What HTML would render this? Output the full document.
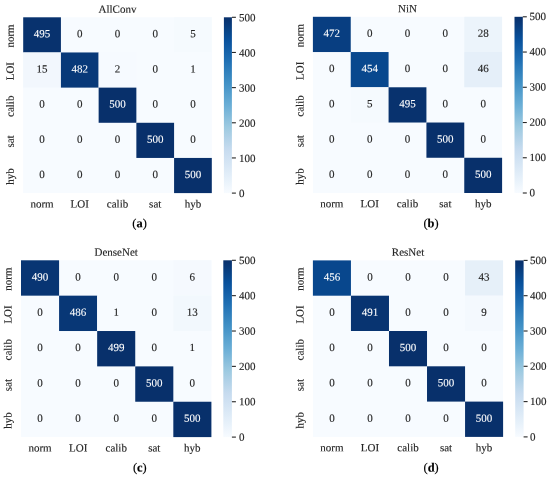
<!DOCTYPE html>
<html><head><meta charset="utf-8"><title>Confusion matrices</title>
<style>
html,body{margin:0;padding:0;background:#fff;}
svg{display:block;}
text{font-family:"Liberation Serif","Times New Roman",serif;fill:#262626;stroke:#262626;stroke-width:0.15px;}
.t{font-size:11px;text-anchor:middle;}
.w{fill:#fff;stroke:#fff;stroke-width:0.08px;}
.cb{font-size:11px;text-anchor:start;}
.cap{font-size:12.4px;text-anchor:middle;fill:#000;stroke:#000;}
</style></head><body>
<svg width="550" height="479" viewBox="0 0 550 479">
<defs><linearGradient id="g" x1="0" y1="1" x2="0" y2="0">
<stop offset="0.0000" stop-color="#f7fbff"/>
<stop offset="0.0312" stop-color="#f1f7fd"/>
<stop offset="0.0625" stop-color="#eaf3fb"/>
<stop offset="0.0938" stop-color="#e4eff9"/>
<stop offset="0.1250" stop-color="#deebf7"/>
<stop offset="0.1562" stop-color="#d8e7f5"/>
<stop offset="0.1875" stop-color="#d2e3f3"/>
<stop offset="0.2188" stop-color="#ccdff1"/>
<stop offset="0.2500" stop-color="#c6dbef"/>
<stop offset="0.2812" stop-color="#bcd7eb"/>
<stop offset="0.3125" stop-color="#b2d2e8"/>
<stop offset="0.3438" stop-color="#a8cee4"/>
<stop offset="0.3750" stop-color="#9dcae1"/>
<stop offset="0.4062" stop-color="#91c3de"/>
<stop offset="0.4375" stop-color="#84bcdb"/>
<stop offset="0.4688" stop-color="#77b5d9"/>
<stop offset="0.5000" stop-color="#6aaed6"/>
<stop offset="0.5312" stop-color="#60a7d2"/>
<stop offset="0.5625" stop-color="#56a0ce"/>
<stop offset="0.5938" stop-color="#4b98ca"/>
<stop offset="0.6250" stop-color="#4191c6"/>
<stop offset="0.6562" stop-color="#3989c1"/>
<stop offset="0.6875" stop-color="#3181bd"/>
<stop offset="0.7188" stop-color="#2979b9"/>
<stop offset="0.7500" stop-color="#2070b4"/>
<stop offset="0.7812" stop-color="#1a68ae"/>
<stop offset="0.8125" stop-color="#1460a8"/>
<stop offset="0.8438" stop-color="#0e58a2"/>
<stop offset="0.8750" stop-color="#08509b"/>
<stop offset="0.9062" stop-color="#08488e"/>
<stop offset="0.9375" stop-color="#084082"/>
<stop offset="0.9688" stop-color="#083776"/>
<stop offset="1.0000" stop-color="#08306b"/>
</linearGradient></defs>
<rect width="550" height="479" fill="#fff"/>
<g>
<rect x="23.20" y="17.30" width="188.60" height="175.80" fill="#f7fbff"/>
<rect x="23.20" y="17.30" width="37.72" height="35.16" fill="#08326e"/>
<rect x="174.08" y="17.30" width="37.72" height="35.16" fill="#f5fafe"/>
<rect x="23.20" y="52.46" width="37.72" height="35.16" fill="#f2f7fd"/>
<rect x="60.92" y="52.46" width="37.72" height="35.16" fill="#083979"/>
<rect x="98.64" y="52.46" width="37.72" height="35.16" fill="#f6faff"/>
<rect x="174.08" y="52.46" width="37.72" height="35.16" fill="#f7fbff"/>
<rect x="98.64" y="87.62" width="37.72" height="35.16" fill="#08306b"/>
<rect x="136.36" y="122.78" width="37.72" height="35.16" fill="#08306b"/>
<rect x="174.08" y="157.94" width="37.72" height="35.16" fill="#08306b"/>
<text class="t w" transform="translate(42.06 37.28) rotate(0.04)">495</text>
<text class="t" transform="translate(79.78 37.28) rotate(0.04)">0</text>
<text class="t" transform="translate(117.50 37.28) rotate(0.04)">0</text>
<text class="t" transform="translate(155.22 37.28) rotate(0.04)">0</text>
<text class="t" transform="translate(192.94 37.28) rotate(0.04)">5</text>
<text class="t" transform="translate(42.06 72.44) rotate(0.04)">15</text>
<text class="t w" transform="translate(79.78 72.44) rotate(0.04)">482</text>
<text class="t" transform="translate(117.50 72.44) rotate(0.04)">2</text>
<text class="t" transform="translate(155.22 72.44) rotate(0.04)">0</text>
<text class="t" transform="translate(192.94 72.44) rotate(0.04)">1</text>
<text class="t" transform="translate(42.06 107.60) rotate(0.04)">0</text>
<text class="t" transform="translate(79.78 107.60) rotate(0.04)">0</text>
<text class="t w" transform="translate(117.50 107.60) rotate(0.04)">500</text>
<text class="t" transform="translate(155.22 107.60) rotate(0.04)">0</text>
<text class="t" transform="translate(192.94 107.60) rotate(0.04)">0</text>
<text class="t" transform="translate(42.06 142.76) rotate(0.04)">0</text>
<text class="t" transform="translate(79.78 142.76) rotate(0.04)">0</text>
<text class="t" transform="translate(117.50 142.76) rotate(0.04)">0</text>
<text class="t w" transform="translate(155.22 142.76) rotate(0.04)">500</text>
<text class="t" transform="translate(192.94 142.76) rotate(0.04)">0</text>
<text class="t" transform="translate(42.06 177.92) rotate(0.04)">0</text>
<text class="t" transform="translate(79.78 177.92) rotate(0.04)">0</text>
<text class="t" transform="translate(117.50 177.92) rotate(0.04)">0</text>
<text class="t" transform="translate(155.22 177.92) rotate(0.04)">0</text>
<text class="t w" transform="translate(192.94 177.92) rotate(0.04)">500</text>
<text class="t" transform="translate(117.50 12.70) rotate(0.04)">AllConv</text>
<text class="t" transform="translate(42.06 207.40) rotate(0.04)">norm</text>
<text class="t" transform="translate(79.78 207.40) rotate(0.04)">LOI</text>
<text class="t" transform="translate(117.50 207.40) rotate(0.04)">calib</text>
<text class="t" transform="translate(155.22 207.40) rotate(0.04)">sat</text>
<text class="t" transform="translate(192.94 207.40) rotate(0.04)">hyb</text>
<text class="t" transform="translate(13.70 35.98) rotate(-90.04)">norm</text>
<text class="t" transform="translate(13.70 71.14) rotate(-90.04)">LOI</text>
<text class="t" transform="translate(13.70 106.30) rotate(-90.04)">calib</text>
<text class="t" transform="translate(13.70 141.46) rotate(-90.04)">sat</text>
<text class="t" transform="translate(13.70 176.62) rotate(-90.04)">hyb</text>
<rect x="223.90" y="17.30" width="8.00" height="175.80" fill="url(#g)"/>
<line x1="231.90" y1="193.10" x2="235.90" y2="193.10" stroke="#262626" stroke-width="1.1"/>
<text class="cb" transform="translate(239.10 197.10) rotate(0.04)">0</text>
<line x1="231.90" y1="157.94" x2="235.90" y2="157.94" stroke="#262626" stroke-width="1.1"/>
<text class="cb" transform="translate(239.10 161.94) rotate(0.04)">100</text>
<line x1="231.90" y1="122.78" x2="235.90" y2="122.78" stroke="#262626" stroke-width="1.1"/>
<text class="cb" transform="translate(239.10 126.78) rotate(0.04)">200</text>
<line x1="231.90" y1="87.62" x2="235.90" y2="87.62" stroke="#262626" stroke-width="1.1"/>
<text class="cb" transform="translate(239.10 91.62) rotate(0.04)">300</text>
<line x1="231.90" y1="52.46" x2="235.90" y2="52.46" stroke="#262626" stroke-width="1.1"/>
<text class="cb" transform="translate(239.10 56.46) rotate(0.04)">400</text>
<line x1="231.90" y1="17.30" x2="235.90" y2="17.30" stroke="#262626" stroke-width="1.1"/>
<text class="cb" transform="translate(239.10 21.30) rotate(0.04)">500</text>
<text class="cap" transform="translate(139.60 227.20) rotate(0.04)">(<tspan font-weight="bold">a</tspan>)</text>
</g>
<g>
<rect x="312.90" y="16.80" width="189.20" height="176.20" fill="#f7fbff"/>
<rect x="312.90" y="16.80" width="37.84" height="35.24" fill="#083e81"/>
<rect x="464.26" y="16.80" width="37.84" height="35.24" fill="#ecf4fb"/>
<rect x="350.74" y="52.04" width="37.84" height="35.24" fill="#08488e"/>
<rect x="464.26" y="52.04" width="37.84" height="35.24" fill="#e5eff9"/>
<rect x="350.74" y="87.28" width="37.84" height="35.24" fill="#f5fafe"/>
<rect x="388.58" y="87.28" width="37.84" height="35.24" fill="#08326e"/>
<rect x="426.42" y="122.52" width="37.84" height="35.24" fill="#08306b"/>
<rect x="464.26" y="157.76" width="37.84" height="35.24" fill="#08306b"/>
<text class="t w" transform="translate(331.82 36.82) rotate(0.04)">472</text>
<text class="t" transform="translate(369.66 36.82) rotate(0.04)">0</text>
<text class="t" transform="translate(407.50 36.82) rotate(0.04)">0</text>
<text class="t" transform="translate(445.34 36.82) rotate(0.04)">0</text>
<text class="t" transform="translate(483.18 36.82) rotate(0.04)">28</text>
<text class="t" transform="translate(331.82 72.06) rotate(0.04)">0</text>
<text class="t w" transform="translate(369.66 72.06) rotate(0.04)">454</text>
<text class="t" transform="translate(407.50 72.06) rotate(0.04)">0</text>
<text class="t" transform="translate(445.34 72.06) rotate(0.04)">0</text>
<text class="t" transform="translate(483.18 72.06) rotate(0.04)">46</text>
<text class="t" transform="translate(331.82 107.30) rotate(0.04)">0</text>
<text class="t" transform="translate(369.66 107.30) rotate(0.04)">5</text>
<text class="t w" transform="translate(407.50 107.30) rotate(0.04)">495</text>
<text class="t" transform="translate(445.34 107.30) rotate(0.04)">0</text>
<text class="t" transform="translate(483.18 107.30) rotate(0.04)">0</text>
<text class="t" transform="translate(331.82 142.54) rotate(0.04)">0</text>
<text class="t" transform="translate(369.66 142.54) rotate(0.04)">0</text>
<text class="t" transform="translate(407.50 142.54) rotate(0.04)">0</text>
<text class="t w" transform="translate(445.34 142.54) rotate(0.04)">500</text>
<text class="t" transform="translate(483.18 142.54) rotate(0.04)">0</text>
<text class="t" transform="translate(331.82 177.78) rotate(0.04)">0</text>
<text class="t" transform="translate(369.66 177.78) rotate(0.04)">0</text>
<text class="t" transform="translate(407.50 177.78) rotate(0.04)">0</text>
<text class="t" transform="translate(445.34 177.78) rotate(0.04)">0</text>
<text class="t w" transform="translate(483.18 177.78) rotate(0.04)">500</text>
<text class="t" transform="translate(407.50 12.20) rotate(0.04)">NiN</text>
<text class="t" transform="translate(331.82 207.30) rotate(0.04)">norm</text>
<text class="t" transform="translate(369.66 207.30) rotate(0.04)">LOI</text>
<text class="t" transform="translate(407.50 207.30) rotate(0.04)">calib</text>
<text class="t" transform="translate(445.34 207.30) rotate(0.04)">sat</text>
<text class="t" transform="translate(483.18 207.30) rotate(0.04)">hyb</text>
<text class="t" transform="translate(303.40 35.52) rotate(-90.04)">norm</text>
<text class="t" transform="translate(303.40 70.76) rotate(-90.04)">LOI</text>
<text class="t" transform="translate(303.40 106.00) rotate(-90.04)">calib</text>
<text class="t" transform="translate(303.40 141.24) rotate(-90.04)">sat</text>
<text class="t" transform="translate(303.40 176.48) rotate(-90.04)">hyb</text>
<rect x="514.50" y="16.80" width="8.30" height="176.20" fill="url(#g)"/>
<line x1="522.80" y1="193.00" x2="526.80" y2="193.00" stroke="#262626" stroke-width="1.1"/>
<text class="cb" transform="translate(529.40 196.30) rotate(0.04)">0</text>
<line x1="522.80" y1="157.76" x2="526.80" y2="157.76" stroke="#262626" stroke-width="1.1"/>
<text class="cb" transform="translate(529.40 161.06) rotate(0.04)">100</text>
<line x1="522.80" y1="122.52" x2="526.80" y2="122.52" stroke="#262626" stroke-width="1.1"/>
<text class="cb" transform="translate(529.40 125.82) rotate(0.04)">200</text>
<line x1="522.80" y1="87.28" x2="526.80" y2="87.28" stroke="#262626" stroke-width="1.1"/>
<text class="cb" transform="translate(529.40 90.58) rotate(0.04)">300</text>
<line x1="522.80" y1="52.04" x2="526.80" y2="52.04" stroke="#262626" stroke-width="1.1"/>
<text class="cb" transform="translate(529.40 55.34) rotate(0.04)">400</text>
<line x1="522.80" y1="16.80" x2="526.80" y2="16.80" stroke="#262626" stroke-width="1.1"/>
<text class="cb" transform="translate(529.40 20.10) rotate(0.04)">500</text>
<text class="cap" transform="translate(431.00 227.20) rotate(0.04)">(<tspan font-weight="bold">b</tspan>)</text>
</g>
<g>
<rect x="21.00" y="260.30" width="190.40" height="176.80" fill="#f7fbff"/>
<rect x="21.00" y="260.30" width="38.08" height="35.36" fill="#083573"/>
<rect x="173.32" y="260.30" width="38.08" height="35.36" fill="#f5f9fe"/>
<rect x="59.08" y="295.66" width="38.08" height="35.36" fill="#083776"/>
<rect x="97.16" y="295.66" width="38.08" height="35.36" fill="#f7fbff"/>
<rect x="173.32" y="295.66" width="38.08" height="35.36" fill="#f2f8fd"/>
<rect x="97.16" y="331.02" width="38.08" height="35.36" fill="#08306b"/>
<rect x="173.32" y="331.02" width="38.08" height="35.36" fill="#f7fbff"/>
<rect x="135.24" y="366.38" width="38.08" height="35.36" fill="#08306b"/>
<rect x="173.32" y="401.74" width="38.08" height="35.36" fill="#08306b"/>
<text class="t w" transform="translate(40.04 280.38) rotate(0.04)">490</text>
<text class="t" transform="translate(78.12 280.38) rotate(0.04)">0</text>
<text class="t" transform="translate(116.20 280.38) rotate(0.04)">0</text>
<text class="t" transform="translate(154.28 280.38) rotate(0.04)">0</text>
<text class="t" transform="translate(192.36 280.38) rotate(0.04)">6</text>
<text class="t" transform="translate(40.04 315.74) rotate(0.04)">0</text>
<text class="t w" transform="translate(78.12 315.74) rotate(0.04)">486</text>
<text class="t" transform="translate(116.20 315.74) rotate(0.04)">1</text>
<text class="t" transform="translate(154.28 315.74) rotate(0.04)">0</text>
<text class="t" transform="translate(192.36 315.74) rotate(0.04)">13</text>
<text class="t" transform="translate(40.04 351.10) rotate(0.04)">0</text>
<text class="t" transform="translate(78.12 351.10) rotate(0.04)">0</text>
<text class="t w" transform="translate(116.20 351.10) rotate(0.04)">499</text>
<text class="t" transform="translate(154.28 351.10) rotate(0.04)">0</text>
<text class="t" transform="translate(192.36 351.10) rotate(0.04)">1</text>
<text class="t" transform="translate(40.04 386.46) rotate(0.04)">0</text>
<text class="t" transform="translate(78.12 386.46) rotate(0.04)">0</text>
<text class="t" transform="translate(116.20 386.46) rotate(0.04)">0</text>
<text class="t w" transform="translate(154.28 386.46) rotate(0.04)">500</text>
<text class="t" transform="translate(192.36 386.46) rotate(0.04)">0</text>
<text class="t" transform="translate(40.04 421.82) rotate(0.04)">0</text>
<text class="t" transform="translate(78.12 421.82) rotate(0.04)">0</text>
<text class="t" transform="translate(116.20 421.82) rotate(0.04)">0</text>
<text class="t" transform="translate(154.28 421.82) rotate(0.04)">0</text>
<text class="t w" transform="translate(192.36 421.82) rotate(0.04)">500</text>
<text class="t" transform="translate(116.20 255.70) rotate(0.04)">DenseNet</text>
<text class="t" transform="translate(40.04 451.40) rotate(0.04)">norm</text>
<text class="t" transform="translate(78.12 451.40) rotate(0.04)">LOI</text>
<text class="t" transform="translate(116.20 451.40) rotate(0.04)">calib</text>
<text class="t" transform="translate(154.28 451.40) rotate(0.04)">sat</text>
<text class="t" transform="translate(192.36 451.40) rotate(0.04)">hyb</text>
<text class="t" transform="translate(11.50 279.08) rotate(-90.04)">norm</text>
<text class="t" transform="translate(11.50 314.44) rotate(-90.04)">LOI</text>
<text class="t" transform="translate(11.50 349.80) rotate(-90.04)">calib</text>
<text class="t" transform="translate(11.50 385.16) rotate(-90.04)">sat</text>
<text class="t" transform="translate(11.50 420.52) rotate(-90.04)">hyb</text>
<rect x="223.30" y="260.30" width="8.60" height="176.80" fill="url(#g)"/>
<line x1="231.90" y1="437.10" x2="235.90" y2="437.10" stroke="#262626" stroke-width="1.1"/>
<text class="cb" transform="translate(239.10 440.70) rotate(0.04)">0</text>
<line x1="231.90" y1="401.74" x2="235.90" y2="401.74" stroke="#262626" stroke-width="1.1"/>
<text class="cb" transform="translate(239.10 405.34) rotate(0.04)">100</text>
<line x1="231.90" y1="366.38" x2="235.90" y2="366.38" stroke="#262626" stroke-width="1.1"/>
<text class="cb" transform="translate(239.10 369.98) rotate(0.04)">200</text>
<line x1="231.90" y1="331.02" x2="235.90" y2="331.02" stroke="#262626" stroke-width="1.1"/>
<text class="cb" transform="translate(239.10 334.62) rotate(0.04)">300</text>
<line x1="231.90" y1="295.66" x2="235.90" y2="295.66" stroke="#262626" stroke-width="1.1"/>
<text class="cb" transform="translate(239.10 299.26) rotate(0.04)">400</text>
<line x1="231.90" y1="260.30" x2="235.90" y2="260.30" stroke="#262626" stroke-width="1.1"/>
<text class="cb" transform="translate(239.10 263.90) rotate(0.04)">500</text>
<text class="cap" transform="translate(139.80 471.40) rotate(0.04)">(<tspan font-weight="bold">c</tspan>)</text>
</g>
<g>
<rect x="312.90" y="260.40" width="190.20" height="176.50" fill="#f7fbff"/>
<rect x="312.90" y="260.40" width="38.04" height="35.30" fill="#08478d"/>
<rect x="465.06" y="260.40" width="38.04" height="35.30" fill="#e6f0f9"/>
<rect x="350.94" y="295.70" width="38.04" height="35.30" fill="#083471"/>
<rect x="465.06" y="295.70" width="38.04" height="35.30" fill="#f4f9fe"/>
<rect x="388.98" y="331.00" width="38.04" height="35.30" fill="#08306b"/>
<rect x="427.02" y="366.30" width="38.04" height="35.30" fill="#08306b"/>
<rect x="465.06" y="401.60" width="38.04" height="35.30" fill="#08306b"/>
<text class="t w" transform="translate(331.92 280.45) rotate(0.04)">456</text>
<text class="t" transform="translate(369.96 280.45) rotate(0.04)">0</text>
<text class="t" transform="translate(408.00 280.45) rotate(0.04)">0</text>
<text class="t" transform="translate(446.04 280.45) rotate(0.04)">0</text>
<text class="t" transform="translate(484.08 280.45) rotate(0.04)">43</text>
<text class="t" transform="translate(331.92 315.75) rotate(0.04)">0</text>
<text class="t w" transform="translate(369.96 315.75) rotate(0.04)">491</text>
<text class="t" transform="translate(408.00 315.75) rotate(0.04)">0</text>
<text class="t" transform="translate(446.04 315.75) rotate(0.04)">0</text>
<text class="t" transform="translate(484.08 315.75) rotate(0.04)">9</text>
<text class="t" transform="translate(331.92 351.05) rotate(0.04)">0</text>
<text class="t" transform="translate(369.96 351.05) rotate(0.04)">0</text>
<text class="t w" transform="translate(408.00 351.05) rotate(0.04)">500</text>
<text class="t" transform="translate(446.04 351.05) rotate(0.04)">0</text>
<text class="t" transform="translate(484.08 351.05) rotate(0.04)">0</text>
<text class="t" transform="translate(331.92 386.35) rotate(0.04)">0</text>
<text class="t" transform="translate(369.96 386.35) rotate(0.04)">0</text>
<text class="t" transform="translate(408.00 386.35) rotate(0.04)">0</text>
<text class="t w" transform="translate(446.04 386.35) rotate(0.04)">500</text>
<text class="t" transform="translate(484.08 386.35) rotate(0.04)">0</text>
<text class="t" transform="translate(331.92 421.65) rotate(0.04)">0</text>
<text class="t" transform="translate(369.96 421.65) rotate(0.04)">0</text>
<text class="t" transform="translate(408.00 421.65) rotate(0.04)">0</text>
<text class="t" transform="translate(446.04 421.65) rotate(0.04)">0</text>
<text class="t w" transform="translate(484.08 421.65) rotate(0.04)">500</text>
<text class="t" transform="translate(408.00 255.80) rotate(0.04)">ResNet</text>
<text class="t" transform="translate(331.92 451.20) rotate(0.04)">norm</text>
<text class="t" transform="translate(369.96 451.20) rotate(0.04)">LOI</text>
<text class="t" transform="translate(408.00 451.20) rotate(0.04)">calib</text>
<text class="t" transform="translate(446.04 451.20) rotate(0.04)">sat</text>
<text class="t" transform="translate(484.08 451.20) rotate(0.04)">hyb</text>
<text class="t" transform="translate(303.40 279.15) rotate(-90.04)">norm</text>
<text class="t" transform="translate(303.40 314.45) rotate(-90.04)">LOI</text>
<text class="t" transform="translate(303.40 349.75) rotate(-90.04)">calib</text>
<text class="t" transform="translate(303.40 385.05) rotate(-90.04)">sat</text>
<text class="t" transform="translate(303.40 420.35) rotate(-90.04)">hyb</text>
<rect x="515.20" y="260.40" width="8.40" height="176.50" fill="url(#g)"/>
<line x1="523.60" y1="436.90" x2="527.60" y2="436.90" stroke="#262626" stroke-width="1.1"/>
<text class="cb" transform="translate(530.10 440.40) rotate(0.04)">0</text>
<line x1="523.60" y1="401.60" x2="527.60" y2="401.60" stroke="#262626" stroke-width="1.1"/>
<text class="cb" transform="translate(530.10 405.10) rotate(0.04)">100</text>
<line x1="523.60" y1="366.30" x2="527.60" y2="366.30" stroke="#262626" stroke-width="1.1"/>
<text class="cb" transform="translate(530.10 369.80) rotate(0.04)">200</text>
<line x1="523.60" y1="331.00" x2="527.60" y2="331.00" stroke="#262626" stroke-width="1.1"/>
<text class="cb" transform="translate(530.10 334.50) rotate(0.04)">300</text>
<line x1="523.60" y1="295.70" x2="527.60" y2="295.70" stroke="#262626" stroke-width="1.1"/>
<text class="cb" transform="translate(530.10 299.20) rotate(0.04)">400</text>
<line x1="523.60" y1="260.40" x2="527.60" y2="260.40" stroke="#262626" stroke-width="1.1"/>
<text class="cb" transform="translate(530.10 263.90) rotate(0.04)">500</text>
<text class="cap" transform="translate(431.10 471.40) rotate(0.04)">(<tspan font-weight="bold">d</tspan>)</text>
</g>
</svg></body></html>
